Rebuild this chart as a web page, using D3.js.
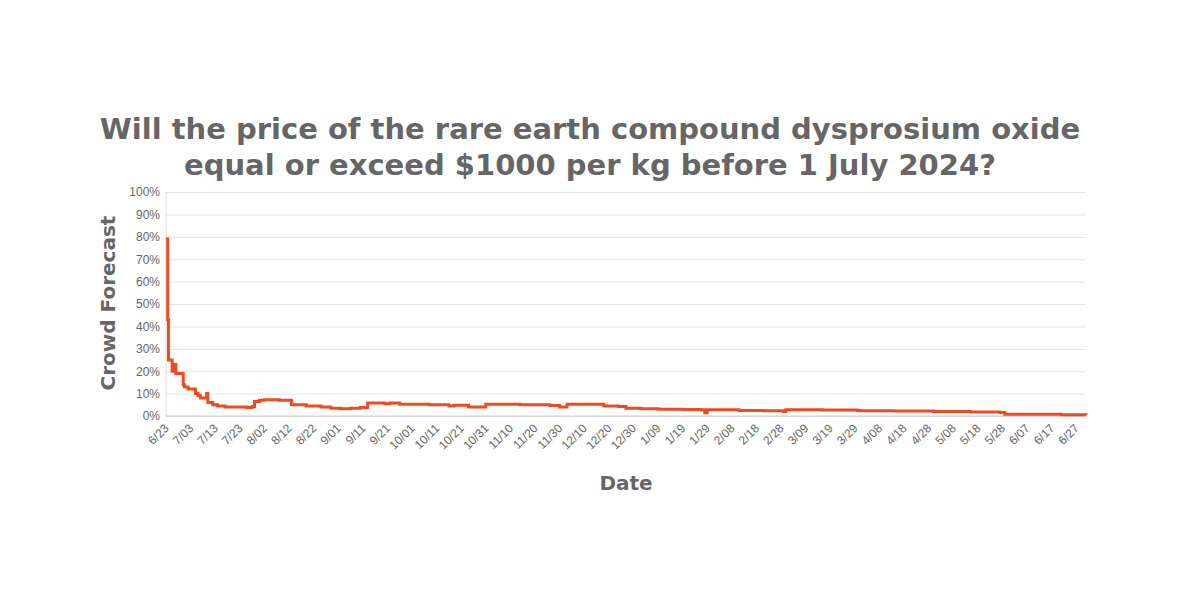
<!DOCTYPE html><html><head><meta charset="utf-8"><script src="https://cdn.jsdelivr.net/npm/d3@7"></script>
<style>body{margin:0;background:#fff;font-family:"DejaVu Sans",sans-serif}</style></head><body><svg id="c" width="1200" height="600"></svg>
<script>
const startDate="2023-06-23", endDate="2024-07-01";
// day offsets from start and forecast values (fraction)
const days=[0,0.7,1,2.5,3.6,4,7,7.5,9,12,13,14,16.5,17,19,21,24,33,35,36,38,40,46,51,57,63,67,71,75,79,82,89,91,95,107,115,117,123,130,144,156,160,163,178,184,187,193,200,210,217,219,220,233,243,251,252,267,281,282,296,312,327,339,341,364,374];
const vals=[0.79,0.43,0.25,0.20,0.23,0.19,0.14,0.13,0.12,0.10,0.09,0.08,0.10,0.06,0.05,0.045,0.04,0.038,0.042,0.065,0.07,0.073,0.07,0.05,0.045,0.04,0.035,0.032,0.035,0.038,0.058,0.055,0.058,0.053,0.05,0.045,0.048,0.04,0.052,0.05,0.047,0.04,0.052,0.045,0.042,0.035,0.032,0.03,0.029,0.028,0.015,0.028,0.025,0.023,0.02,0.028,0.027,0.025,0.023,0.022,0.02,0.018,0.016,0.008,0.006,0.005];
const yTicks=[0,0.1,0.2,0.3,0.4,0.5,0.6,0.7,0.8,0.9,1];
const title=["Will the price of the rare earth compound dysprosium oxide","equal or exceed $1000 per kg before 1 July 2024?"];
const svg=d3.select("#c");
const t0=new Date(startDate+"T00:00:00"), t1=new Date(endDate+"T00:00:00");
const x=d3.scaleTime().domain([t0,t1]).range([166,1086]);
const y=d3.scaleLinear().domain([0,1]).range([416,192]);
const grey="#666";
svg.append("text").attr("x",590).attr("y",139).attr("text-anchor","middle").attr("font-size",29).attr("font-weight","bold").attr("fill",grey).text(title[0]);
svg.append("text").attr("x",590).attr("y",175).attr("text-anchor","middle").attr("font-size",29).attr("font-weight","bold").attr("fill",grey).text(title[1]);
// grid
const ga=svg.append("g").attr("transform","translate(166,0)").call(d3.axisLeft(y).tickValues(yTicks).tickFormat(d3.format(".0%")).tickSize(-920));
ga.select(".domain").remove();
ga.selectAll("line").attr("stroke","#e3e3e3");
ga.selectAll("text").attr("fill",grey).attr("font-size",12).attr("x",-6);
svg.append("line").attr("x1",166).attr("x2",166).attr("y1",192).attr("y2",416).attr("stroke","#ddd");
svg.append("line").attr("x1",166).attr("x2",1086).attr("y1",416).attr("y2",416).attr("stroke","#ccc");
const xt=d3.range(0,371,10).map(d=>d3.timeDay.offset(t0,d));
const xa=svg.append("g").attr("transform","translate(0,416)").call(d3.axisBottom(x).tickValues(xt).tickFormat(d=>(d.getMonth()+1)+"/"+String(d.getDate()).padStart(2,"0").replace(/^0(?=\d$)/,d.getDate()<10?"0":"")).tickSize(0));
xa.select(".domain").remove();
xa.selectAll("text").attr("fill",grey).attr("font-size",12).attr("text-anchor","end").attr("transform","translate(-2,8) rotate(-45)").attr("dy","0.35em").attr("dx","0");
svg.append("text").attr("x",626).attr("y",490).attr("text-anchor","middle").attr("font-size",20).attr("font-weight","bold").attr("fill",grey).text("Date");
svg.append("text").attr("transform","translate(115,303) rotate(-90)").attr("text-anchor","middle").attr("font-size",20).attr("font-weight","bold").attr("fill",grey).text("Crowd Forecast");
const data=days.map((d,i)=>({t:new Date(t0.getTime()+d*864e5),v:vals[i]}));
svg.append("path").datum(data).attr("fill","none").attr("stroke","#f04a22").attr("stroke-width",3)
 .attr("d",d3.line().x(d=>x(d.t)).y(d=>y(d.v)).curve(d3.curveStepAfter));
</script></body></html>
